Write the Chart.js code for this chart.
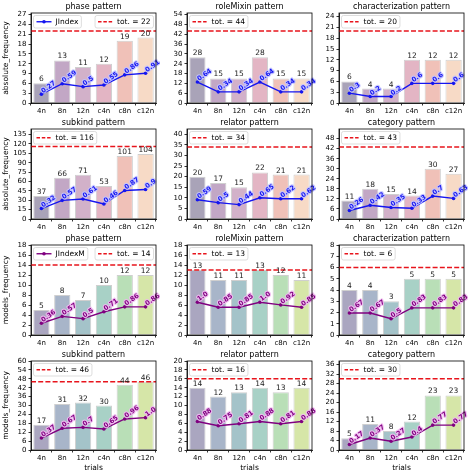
<!DOCTYPE html>
<html>
<head>
<meta charset="utf-8">
<script src="https://cdn.jsdelivr.net/npm/chart.js@4.4.0/dist/chart.umd.min.js"></script>
<style>
  html, body { margin: 0; padding: 0; background: #fff; }
  #fig { position: relative; width: 474px; height: 475px; overflow: hidden; background: #fff; }
  #fig canvas { position: absolute; }
</style>
</head>
<body>
<div id="fig"></div>
<script>
const trials = ["4n", "8n", "12n", "c4n", "c8n", "c12n"];

// absolute_frequency rows
const phaseAbs = [6, 13, 11, 12, 19, 20];
const phaseJ = [0.27, 0.59, 0.5, 0.55, 0.86, 0.91];
const roleMixinAbs = [28, 15, 15, 28, 15, 15];
const roleMixinJ = [0.64, 0.34, 0.34, 0.64, 0.34, 0.34];
const characAbs = [6, 4, 4, 12, 12, 12];
const characJ = [0.3, 0.2, 0.2, 0.6, 0.6, 0.6];
const subkindAbs = [37, 66, 71, 53, 101, 104];
const subkindJ = [0.32, 0.57, 0.61, 0.46, 0.87, 0.9];
const relatorAbs = [20, 17, 15, 22, 21, 21];
const relatorJ = [0.59, 0.5, 0.44, 0.65, 0.62, 0.62];
const categoryAbs = [11, 18, 15, 14, 30, 27];
const categoryJ = [0.26, 0.42, 0.35, 0.33, 0.7, 0.63];

// models_frequency rows
const phaseMod = [5, 8, 7, 10, 12, 12];
const phaseJM = [0.36, 0.57, 0.5, 0.71, 0.86, 0.86];
const roleMixinMod = [13, 11, 11, 13, 12, 11];
const roleMixinJM = [1.0, 0.85, 0.85, 1.0, 0.92, 0.85];
const characMod = [4, 4, 3, 5, 5, 5];
const characJM = [0.67, 0.67, 0.5, 0.83, 0.83, 0.83];
const subkindMod = [17, 31, 32, 30, 44, 46];
const subkindJM = [0.37, 0.67, 0.7, 0.65, 0.96, 1.0];
const relatorMod = [14, 12, 13, 14, 13, 14];
const relatorJM = [0.88, 0.75, 0.81, 0.88, 0.81, 0.88];
const categoryMod = [5, 11, 8, 12, 23, 23];
const categoryJM = [0.17, 0.37, 0.27, 0.4, 0.77, 0.77];

// totals (red dashed line)
const totAbs = [22, 44, 20, 116, 34, 43];
const totMod = [14, 13, 6, 46, 16, 30];

const absColors = ["#a9a3b8", "#c2a7c5", "#d2b1c9", "#e3b5c4", "#f0c1b8", "#f7dac6"];
const modColors = ["#aaa6c0", "#a8b5c9", "#a4c3c9", "#a8d1c6", "#b9dfb7", "#d6e6a8"];

// layout of the 4x3 grid (plot areas)
const colLeft = [31, 187, 339];
const rowTop = [13, 129, 245, 361];
const rowH = [90, 90, 90, 89];
const plotW = 125;

Chart.defaults.font.family = '"DejaVu Sans", sans-serif';
Chart.defaults.color = "#000";

const panels = [
  { row: 0, col: 0, title: "phase pattern", bars: phaseAbs, j: phaseJ, tot: totAbs[0], ymax: 27.5, step: 3 },
  { row: 0, col: 1, title: "roleMixin pattern", bars: roleMixinAbs, j: roleMixinJ, tot: totAbs[1], ymax: 55, step: 6 },
  { row: 0, col: 2, title: "characterization pattern", bars: characAbs, j: characJ, tot: totAbs[2], ymax: 25, step: 3 },
  { row: 1, col: 0, title: "subkind pattern", bars: subkindAbs, j: subkindJ, tot: totAbs[3], ymax: 144, step: 15 },
  { row: 1, col: 1, title: "relator pattern", bars: relatorAbs, j: relatorJ, tot: totAbs[4], ymax: 42.5, step: 5 },
  { row: 1, col: 2, title: "category pattern", bars: categoryAbs, j: categoryJ, tot: totAbs[5], ymax: 53.75, step: 6 },
  { row: 2, col: 0, title: "phase pattern", bars: phaseMod, j: phaseJM, tot: totMod[0], ymax: 18, step: 2, models: true },
  { row: 2, col: 1, title: "roleMixin pattern", bars: roleMixinMod, j: roleMixinJM, tot: totMod[1], ymax: 18, step: 2, models: true },
  { row: 2, col: 2, title: "characterization pattern", bars: characMod, j: characJM, tot: totMod[2], ymax: 8, step: 1, models: true },
  { row: 3, col: 0, title: "subkind pattern", bars: subkindMod, j: subkindJM, tot: totMod[3], ymax: 60, step: 6, models: true },
  { row: 3, col: 1, title: "relator pattern", bars: relatorMod, j: relatorJM, tot: totMod[4], ymax: 20, step: 2, models: true },
  { row: 3, col: 2, title: "category pattern", bars: categoryMod, j: categoryJM, tot: totMod[5], ymax: 37.5, step: 4, models: true }
];

function fmt(v) {
  return Number.isInteger(v) ? v.toFixed(1) : String(v);
}

function legendBox(ctx, x, y, label, kind, color, alignRight) {
  ctx.font = '7.5px "DejaVu Sans"';
  const tw = ctx.measureText(label).width;
  const w = 3 + 15 + 4 + tw + 3, h = 12.5;
  const bx = alignRight ? x - w : x;
  ctx.fillStyle = "rgba(255,255,255,0.85)";
  ctx.strokeStyle = "#d4d4d4";
  ctx.lineWidth = 0.8;
  ctx.beginPath();
  ctx.roundRect(bx, y, w, h, 2);
  ctx.fill();
  ctx.stroke();
  const cy = y + h / 2;
  ctx.strokeStyle = color;
  ctx.lineWidth = 1.4;
  if (kind === "dash") ctx.setLineDash([3.5, 1.8]);
  ctx.beginPath();
  ctx.moveTo(bx + 3, cy);
  ctx.lineTo(bx + 18, cy);
  ctx.stroke();
  ctx.setLineDash([]);
  if (kind === "marker") {
    ctx.fillStyle = color;
    ctx.beginPath();
    ctx.arc(bx + 10.5, cy, 1.8, 0, 2 * Math.PI);
    ctx.fill();
  }
  ctx.fillStyle = "#000";
  ctx.textAlign = "left";
  ctx.textBaseline = "middle";
  ctx.fillText(label, bx + 22, cy + 0.5);
}

function panelPlugin(p, lineColor, halo) {
  return {
    id: "panel" + p.row + p.col,
    afterDatasetsDraw(chart) {
      const ctx = chart.ctx, a = chart.chartArea, ys = chart.scales.y;
      ctx.save();
      // tot line
      const ty = ys.getPixelForValue(p.tot);
      ctx.strokeStyle = "#e8141c";
      ctx.lineWidth = 1.4;
      ctx.setLineDash([5, 2.2]);
      ctx.beginPath();
      ctx.moveTo(a.left, ty);
      ctx.lineTo(a.right, ty);
      ctx.stroke();
      ctx.setLineDash([]);

      // bar values
      const bm = chart.getDatasetMeta(1);
      ctx.fillStyle = "#222";
      ctx.font = '7.5px "DejaVu Sans"';
      ctx.textAlign = "center";
      ctx.textBaseline = "bottom";
      bm.data.forEach((el, i) => ctx.fillText(String(p.bars[i]), el.x, el.y - 0.2));

      // jindex labels
      const lm = chart.getDatasetMeta(0);
      ctx.font = 'bold 6.5px "DejaVu Sans"';
      ctx.textAlign = "left";
      ctx.textBaseline = "alphabetic";
      lm.data.forEach((el, i) => {
        const txt = fmt(p.j[i]);
        ctx.save();
        ctx.translate(el.x + 1.5, el.y - 1);
        ctx.rotate(-35 * Math.PI / 180);
        ctx.lineJoin = "round";
        ctx.lineWidth = 2.2;
        ctx.strokeStyle = halo;
        ctx.strokeText(txt, 0, 0);
        ctx.fillStyle = lineColor;
        ctx.fillText(txt, 0, 0);
        ctx.restore();
      });

      // legends
      const totLabel = "tot. = " + p.tot;
      if (p.col === 0 && (p.row === 0 || p.row === 2)) {
        legendBox(ctx, a.left + 2.5, a.top + 2.5, p.models ? "JIndexM" : "JIndex", "marker", lineColor, false);
        legendBox(ctx, a.right - 2.5, a.top + 2.5, totLabel, "dash", "#e8141c", true);
      } else {
        legendBox(ctx, a.left + 2.5, a.top + 2.5, totLabel, "dash", "#e8141c", false);
      }

      // frame
      ctx.strokeStyle = "#000";
      ctx.lineWidth = 0.8;
      ctx.strokeRect(a.left, a.top, a.right - a.left, a.bottom - a.top);

      // title
      ctx.fillStyle = "#000";
      ctx.font = '8px "DejaVu Sans"';
      ctx.textAlign = "center";
      ctx.textBaseline = "bottom";
      ctx.fillText(p.title, (a.left + a.right) / 2, a.top - 2.5);
      ctx.restore();
    }
  };
}

const fig = document.getElementById("fig");

panels.forEach(p => {
  const xh = p.row === 3 ? 26 : 16;
  const W = 31 + plotW + 4;
  const H = 14 + rowH[p.row] + xh;
  const cv = document.createElement("canvas");
  cv.width = W;
  cv.height = H;
  cv.style.left = (colLeft[p.col] - 31) + "px";
  cv.style.top = (rowTop[p.row] - 14) + "px";
  cv.style.width = W + "px";
  cv.style.height = H + "px";
  fig.appendChild(cv);

  const lineColor = p.models ? "#800080" : "#1515f0";
  const halo = p.models ? "rgba(240,185,240,0.9)" : "rgba(195,195,255,0.9)";
  const axisGrid = { display: true, drawOnChartArea: false, tickLength: 2.5, color: "#000", tickWidth: 0.8 };

  new Chart(cv, {
    type: "bar",
    data: {
      labels: trials,
      datasets: [
        {
          type: "line", data: p.j, yAxisID: "y1", order: 0,
          borderColor: lineColor, backgroundColor: lineColor,
          borderWidth: 1.4, pointRadius: 1.8, pointBorderWidth: 0, tension: 0
        },
        {
          type: "bar", data: p.bars, yAxisID: "y", order: 1,
          backgroundColor: p.models ? modColors : absColors,
          borderColor: "#cfcfcf", borderWidth: 1,
          barPercentage: 0.78, categoryPercentage: 1
        }
      ]
    },
    options: {
      responsive: false,
      animation: false,
      devicePixelRatio: 1,
      layout: { padding: { top: 14, right: 4, left: 0, bottom: 0 } },
      plugins: { legend: { display: false }, tooltip: { enabled: false }, title: { display: false } },
      scales: {
        x: {
          grid: axisGrid,
          border: { color: "#000", width: 0.8 },
          ticks: { color: "#000", font: { size: 7 }, padding: 1, maxRotation: 0, autoSkip: false },
          title: { display: p.row === 3, text: "trials", color: "#000", font: { size: 7.5 }, padding: { top: 0, bottom: 3 } },
          afterFit: s => { s.height = xh; }
        },
        y: {
          min: 0, max: p.ymax,
          grid: axisGrid,
          border: { color: "#000", width: 0.8 },
          ticks: { stepSize: p.step, includeBounds: false, autoSkip: false, color: "#000", font: { size: 7 }, padding: 2 },
          title: {
            display: p.col === 0,
            text: p.models ? "models_frequency" : "absolute_frequency",
            color: "#000", font: { size: 7.5 }, padding: { top: 2, bottom: 2 }
          },
          afterFit: s => { s.width = 31; }
        },
        y1: { display: false, min: 0, max: 2.75 }
      }
    },
    plugins: [panelPlugin(p, lineColor, halo)]
  });
});
</script>
</body>
</html>
